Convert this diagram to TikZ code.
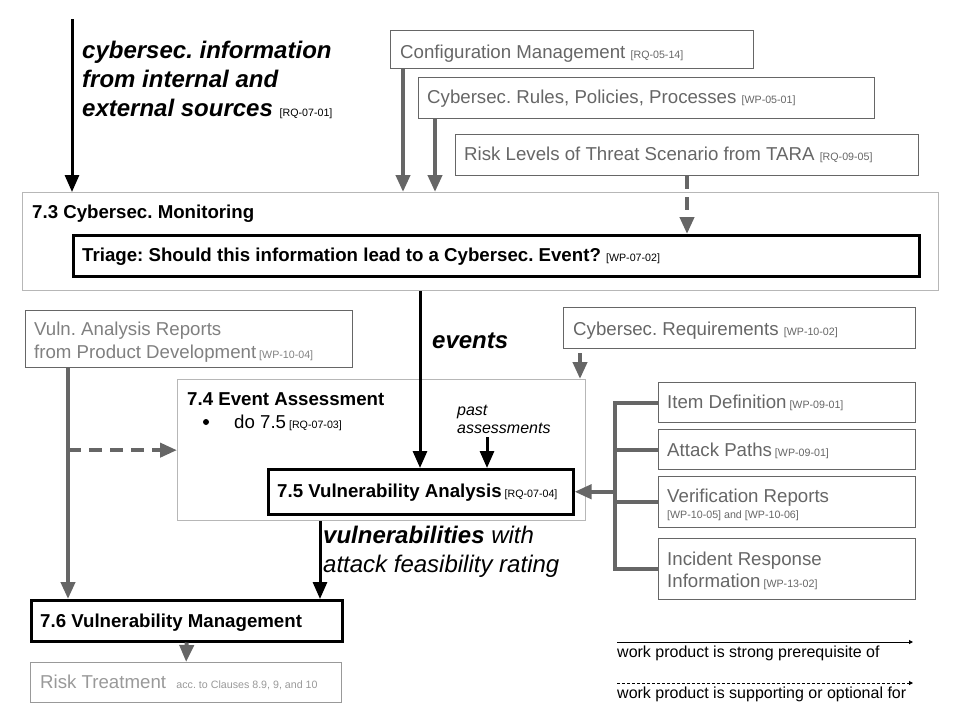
\documentclass[tikz,border=0pt]{standalone}
\usepackage{fontspec}
\setmainfont{Liberation Sans}
\usetikzlibrary{arrows.meta}
\definecolor{gline}{HTML}{666666}
\definecolor{gtext}{HTML}{666666}
\definecolor{vtext}{HTML}{808080}
\definecolor{lbox}{HTML}{B7B7B7}
\definecolor{ltext}{HTML}{999999}
\newcommand\fA{\fontsize{18.67}{22}\selectfont}
\newcommand\fB{\fontsize{18.67}{23}\selectfont}
\newcommand\fS{\fontsize{10.67}{13}\selectfont}
\newcommand\fL{\fontsize{24}{29}\selectfont}
\newcommand\fM{\fontsize{16}{18}\selectfont}
\newcommand\lines[1]{\begin{tabular}[t]{@{}l@{}}#1\end{tabular}}
\frenchspacing
\tikzset{
  gbox/.style={draw=gline, line width=1.3, inner sep=0, anchor=north west},
  lgbox/.style={draw=lbox, line width=1.3, inner sep=0, anchor=north west},
  kbox/.style={draw=black, line width=2.5, inner sep=0, anchor=north west},
  txt/.style={anchor=base west, inner sep=0},
  gtxt/.style={txt, text=gtext, font=\fA},
  barrow/.style={draw=black, line width=3, -{Triangle[length=17pt,width=14pt]}},
  garrow/.style={draw=gline, line width=4, -{Triangle[length=17pt,width=14pt]}},
  gdash/.style={garrow, dash pattern=on 13pt off 8pt},
  gwire/.style={draw=gline, line width=4},
  legline/.style={draw=black, line width=1, -{Triangle[length=4pt,width=4pt]}},
}
\begin{document}
\begin{tikzpicture}[x=1pt,y=-1pt]
\useasboundingbox (0,0) rectangle (960,720);

% ---------- boxes ----------
\node[gbox, minimum width=363, minimum height=38] (cfg) at (390,30) {};
\node[gbox, minimum width=456, minimum height=41] (rules) at (418,77) {};
\node[gbox, minimum width=463, minimum height=41] (risk) at (455,134) {};
\node[lgbox, minimum width=916, minimum height=98] (mon) at (22,192) {};
\node[kbox, minimum width=846, minimum height=41] (triage) at (72,234) {};
\node[gbox, minimum width=327, minimum height=57] (vuln) at (25,310) {};
\node[gbox, minimum width=352, minimum height=41] (req) at (563,307) {};
\node[lgbox, minimum width=408, minimum height=141] (event) at (177,379) {};
\node[kbox, minimum width=305, minimum height=45] (va) at (267,468) {};
\node[gbox, minimum width=257, minimum height=40] (item) at (658,382) {};
\node[gbox, minimum width=257, minimum height=40] (attack) at (658,429) {};
\node[gbox, minimum width=257, minimum height=51] (verif) at (658,476) {};
\node[gbox, minimum width=257, minimum height=61] (incident) at (658,538) {};
\node[kbox, minimum width=311, minimum height=41] (mgmt) at (30,599) {};
\node[gbox, draw=ltext, minimum width=311, minimum height=40] (rt) at (30,662) {};

% ---------- texts ----------
\node[txt, font=\fL\bfseries\itshape] (srclbl) at (82,58)
  {\lines{cybersec. information\\from internal and\\external sources {\fS\mdseries\upshape [RQ-07-01]}}};
\node[gtxt] (cfgt) at (400,58) {Configuration Management {\fS [RQ-05-14]}};
\node[gtxt] (rulest) at (427,103) {Cybersec. Rules, Policies, Processes {\fS [WP-05-01]}};
\node[gtxt] (riskt) at (464,160) {Risk Levels of Threat Scenario from TARA {\fS [RQ-09-05]}};
\node[txt, font=\fA\bfseries] (mont) at (32,218) {7.3 Cybersec. Monitoring};
\node[txt, font=\fA\bfseries] (triaget) at (82,261) {Triage: Should this information lead to a Cybersec. Event? {\fS\mdseries [WP-07-02]}};
\node[txt, text=vtext, font=\fB] (vulnt) at (34,335) {\lines{Vuln. Analysis Reports\\from Product Development{\fS\ [WP-10-04]}}};
\node[txt, font=\fL\bfseries\itshape] (eventslbl) at (432,348) {events};
\node[gtxt] (reqt) at (573,335) {Cybersec. Requirements {\fS [WP-10-02]}};
\node[txt, font=\fA\bfseries] (eventt) at (187,405) {7.4 Event Assessment};
\node[circle, fill=black, inner sep=0, minimum size=6] (bul) at (206,422) {};
\node[txt, font=\fA] (dot) at (234,428) {do 7.5{\fS\ [RQ-07-03]}};
\node[txt, font=\fM\itshape] (pastt) at (457,415) {\lines{past\\assessments}};
\node[txt, font=\fA\bfseries] (vat) at (277,497) {7.5 Vulnerability Analysis{\fS\mdseries\ [RQ-07-04]}};
\node[gtxt] (itemt) at (667,408) {Item Definition{\fS\ [WP-09-01]}};
\node[gtxt] (attackt) at (667,456) {Attack Paths{\fS\ [WP-09-01]}};
\node[gtxt] (veriftA) at (667,502) {Verification Reports};
\node[txt, text=gtext, font=\fS] (veriftB) at (667,518) {[WP-10-05] and [WP-10-06]};
\node[gtxt] (incidentt) at (667,565) {\lines{Incident Response\\Information{\fS\ [WP-13-02]}}};
\node[txt, font=\fL\itshape] (vulnlbl) at (323,543) {\lines{\textbf{vulnerabilities} with\\attack feasibility rating}};
\node[txt, font=\fA\bfseries] (mgmtt) at (40,627) {7.6 Vulnerability Management};
\node[txt, text=ltext, font=\fA] (rtt) at (40,688) {Risk Treatment\ \ {\fS acc. to Clauses 8.9, 9, and 10}};
\node[txt, font=\fM] (leg1t) at (617,657) {work product is strong prerequisite of};
\node[txt, font=\fM] (leg2t) at (617,698) {work product is supporting or optional for};

% ---------- connectors ----------
\coordinate (src) at (72,19);
\draw[barrow] (src) -- (src |- mon.north);

\coordinate (cfgS) at ([xshift=13]cfg.south west);
\draw[garrow] (cfgS) -- (cfgS |- mon.north);
\coordinate (rulesS) at ([xshift=17]rules.south west);
\draw[garrow] (rulesS) -- (rulesS |- mon.north);
\coordinate (riskS) at ([xshift=232]risk.south west);
\draw[gdash] (riskS) -- (riskS |- triage.north);

\coordinate (evT) at ([xshift=153]va.north west);
\draw[barrow] (evT |- mon.south) -- (evT);
\coordinate (paT) at ([xshift=220]va.north west);
\coordinate (paS) at ([yshift=31]paT);
\draw[barrow] (paS) -- (paT);

\coordinate (reqS) at ([xshift=17,yshift=-4]req.south west);
\draw[garrow] (reqS) -- (reqS |- event.north);

\coordinate (bus) at (615,0);
\draw[gwire] (item.west) -| (bus |- incident.west) -- (incident.west);
\draw[gwire] (bus |- attack.west) -- (attack.west);
\draw[gwire] (bus |- verif.west) -- (verif.west);
\draw[garrow] (bus |- va.east) -- (va.east);

\coordinate (vlS) at ([xshift=43]vuln.south west);
\draw[garrow] (vlS) -- (vlS |- mgmt.north);
\coordinate (vlM) at (vlS |- event.west);
\draw[gdash] (vlM) -- (event.west);

\coordinate (vbS) at ([xshift=143]event.south west);
\draw[barrow] (vbS) -- (vbS |- mgmt.north);
\draw[garrow] (mgmt.south) -- (rt.north);

% ---------- legend ----------
\coordinate (l1a) at (617,642);
\coordinate (l1b) at (913,642);
\draw[legline] (l1a) -- (l1b);
\coordinate (l2a) at (617,683);
\coordinate (l2b) at (913,683);
\draw[legline, dash pattern=on 3pt off 2pt] (l2a) -- (l2b);
\end{tikzpicture}
\end{document}
